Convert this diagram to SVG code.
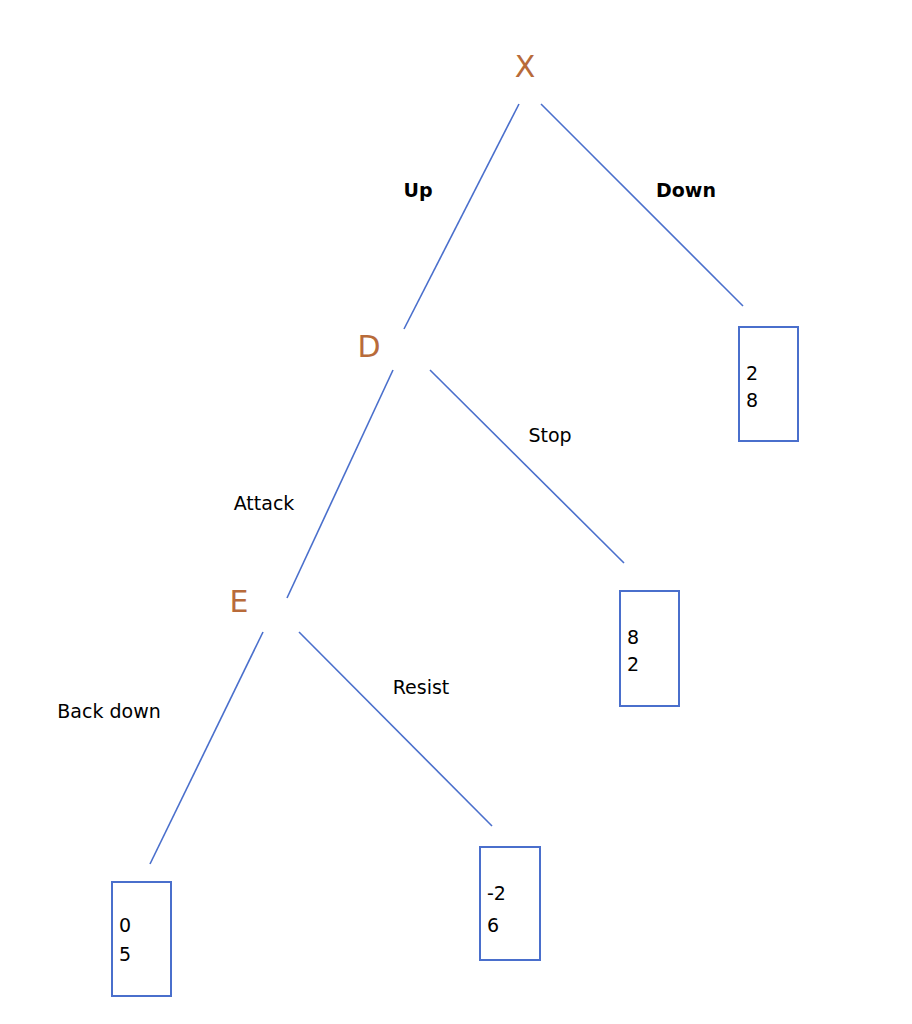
<svg xmlns="http://www.w3.org/2000/svg" width="912" height="1024" viewBox="0 0 912 1024">
<style>
.n{font-family:"DejaVu Sans",sans-serif;font-size:30px;fill:#B86B3A;text-anchor:middle}
.l{font-family:"DejaVu Sans",sans-serif;font-size:19px;fill:#000;text-anchor:middle}
.b{font-weight:bold}
.v{font-family:"DejaVu Sans",sans-serif;font-size:19px;fill:#000}
line{stroke:#4A6FCC;stroke-width:1.6}
rect{fill:#fff;stroke:#4A6FCC;stroke-width:2}
</style>
<rect x="0" y="0" width="912" height="1024" style="stroke:none"/>
<g id="connectors">
<line x1="519" y1="104" x2="404" y2="329"/>
<line x1="541" y1="104" x2="743" y2="306"/>
<line x1="393" y1="370" x2="287" y2="598"/>
<line x1="430" y1="370" x2="624" y2="563"/>
<line x1="263" y1="632" x2="150" y2="864"/>
<line x1="299" y1="632" x2="492" y2="826"/>
</g>
<g id="labels">
<text class="l b" x="418" y="197">Up</text>
<text class="l b" x="686" y="197">Down</text>
<text class="l" x="550" y="442">Stop</text>
<text class="l" x="264" y="510">Attack</text>
<text class="l" x="421" y="694">Resist</text>
<text class="l" x="109" y="718">Back down</text>
</g>
<g id="nodeX"><text class="n" x="525" y="77">X</text></g>
<g id="nodeD"><text class="n" x="369" y="357">D</text></g>
<g id="nodeE"><text class="n" x="239" y="612">E</text></g>
<g id="leafDown"><rect x="739" y="327" width="59" height="114"/><text class="v" x="746" y="380">2</text><text class="v" x="746" y="407">8</text></g>
<g id="leafStop"><rect x="620" y="591" width="59" height="115"/><text class="v" x="627" y="644">8</text><text class="v" x="627" y="671">2</text></g>
<g id="leafBack"><rect x="112" y="882" width="59" height="114"/><text class="v" x="119" y="932">0</text><text class="v" x="119" y="961">5</text></g>
<g id="leafResist"><rect x="480" y="847" width="60" height="113"/><text class="v" x="487" y="900">-2</text><text class="v" x="487" y="932">6</text></g>
</svg>
